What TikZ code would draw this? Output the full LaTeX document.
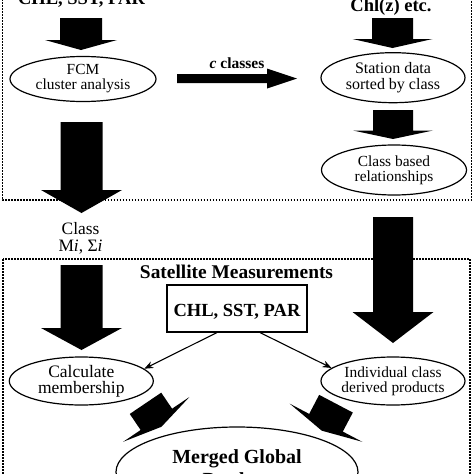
\documentclass[tikz,border=0pt]{standalone}
\usepackage{fontspec}
\setmainfont{Liberation Serif}
\usetikzlibrary{calc,shapes.geometric,arrows.meta}

\tikzset{
  oval/.style={draw, ellipse, line width=1.2pt, inner sep=0pt},
  frame/.style={line width=1.1pt, dash pattern=on 1.6pt off 1.4pt},
  txt/.style={align=center, font=\fontsize{15.4}{15}\selectfont},
  bold/.style={font=\bfseries\fontsize{18.5}{20}\selectfont},
}

% fleche pleine : depart, pointe, demi-largeur du corps, demi-largeur de la tete, longueur de la tete
\newcommand{\fatarrow}[5]{%
  \coordinate (hb) at ($(#2)!#5!(#1)$);
  \fill ($(#1)!#3!90:(#2)$) -- ($(hb)!#3!90:(#2)$) -- ($(hb)!#4!90:(#2)$) -- (#2)
    -- ($(hb)!#4!-90:(#2)$) -- ($(hb)!#3!-90:(#2)$) -- ($(#1)!#3!-90:(#2)$) -- cycle;}

\begin{document}
\begin{tikzpicture}[x=1pt, y=-1pt, >={Stealth[length=9pt,width=7pt]}]
  \clip (0,0) rectangle (474,474);

  % --- PARTIE HAUTE : CLASSIFICATION ---
  \draw[frame] (2.5,-10) rectangle (471.5,200);

  % Entrees
  \node[bold, anchor=base] (inp) at (81.5,4) {CHL, SST, PAR};
  \node[bold, anchor=base] (chlz) at (391,11.7) {Chl(z) etc.};

  % Ellipses
  \node[oval, minimum width=146pt, minimum height=45pt] (fcm) at (83,79) {};
  \node[txt] (fcmtxt) at (fcm) {FCM\\cluster analysis};
  \node[oval, minimum width=144pt, minimum height=50pt] (stat) at (393,77.7) {};
  \node[txt, font=\fontsize{16}{15.5}\selectfont] (stattxt) at (stat) {Station data\\sorted by class};
  \node[oval, minimum width=145pt, minimum height=50pt] (cb) at (394,170) {};
  \node[txt] (cbtxt) at (cb) {Class based\\relationships};

  % Coordonnees des fleches
  \coordinate (a1) at (81,18);    \coordinate (a1t) at (81,50);
  \coordinate (a2) at (392.5,18); \coordinate (a2t) at (392.5,48);
  \coordinate (a3) at (177,78.5); \coordinate (a3t) at (297,78.5);
  \coordinate (a4) at (393,110);  \coordinate (a4t) at (393,139);
  \coordinate (a5) at (81.5,122); \coordinate (a5t) at (81.5,213);

  % Fleches
  \fatarrow{a1}{a1t}{21pt}{36pt}{10pt}
  \fatarrow{a2}{a2t}{20.5pt}{40pt}{9pt}
  \fatarrow{a3}{a3t}{4.5pt}{10pt}{30pt}
  \fatarrow{a4}{a4t}{20pt}{40pt}{8.5pt}
  \fatarrow{a5}{a5t}{21pt}{40.5pt}{23pt}
  \node[bold, anchor=base, font=\bfseries\fontsize{15.5}{16}\selectfont] (ncls) at (237,68) {\textit{c} classes};

  % Sortie de la classification
  \node[txt, font=\fontsize{17.4}{17.4}\selectfont] (clsmi) at (80.5,238.5) {Class\\M\textit{i}, Σ\textit{i}};

  % --- PARTIE BASSE : SATELLITE ---
  \draw[frame] (3,259) rectangle (470,490);
  \node[bold, anchor=base, font=\bfseries\fontsize{19.4}{20}\selectfont] (sat) at (236.5,278) {Satellite Measurements};
  \node[draw, line width=1.3pt, minimum width=140pt, minimum height=47pt] (box) at (237,308.5) {};
  \node[bold, anchor=base] (boxtxt) at (237,316.7) {CHL, SST, PAR};

  \node[oval, minimum width=144pt, minimum height=48pt] (calc) at (81.3,381) {};
  \node[txt, font=\fontsize{17.5}{16}\selectfont] (calctxt) at (calc) {Calculate\\membership};
  \node[oval, minimum width=144pt, minimum height=48pt] (ind) at (393,381) {};
  \node[txt] (indtxt) at (ind) {Individual class\\derived products};

  \node[oval, minimum width=242pt, minimum height=90pt] (merged) at (237,472) {};
  \node[txt, font=\bfseries\fontsize{20}{23}\selectfont] (mergedtxt) at (237,468) {Merged Global\\Product};

  % Fleches fines
  \draw[->, line width=1.1pt] ($(box.south west)!0.357!(box.south east)$) -- (calc.11);
  \draw[->, line width=1.1pt] ($(box.south west)!0.664!(box.south east)$) -- (ind.168);

  % Fleches pleines
  \coordinate (b1) at (81.5,265);  \coordinate (b1t) at (81.5,350);
  \coordinate (b2) at (393,217);   \coordinate (b2t) at (393,343);
  \coordinate (b3) at (145.5,403.3); \coordinate (b3t) at (161.4,426.8);
  \coordinate (b4) at (336,403.7);   \coordinate (b4t) at (321.8,430.7);
  \fatarrow{b1}{b1t}{21pt}{40.5pt}{22pt}
  \fatarrow{b2}{b2t}{20pt}{40.5pt}{31pt}
  \fatarrow{b3}{b3t}{19pt}{40pt}{9pt}
  \fatarrow{b4}{b4t}{19pt}{41pt}{9pt}
\end{tikzpicture}
\end{document}
